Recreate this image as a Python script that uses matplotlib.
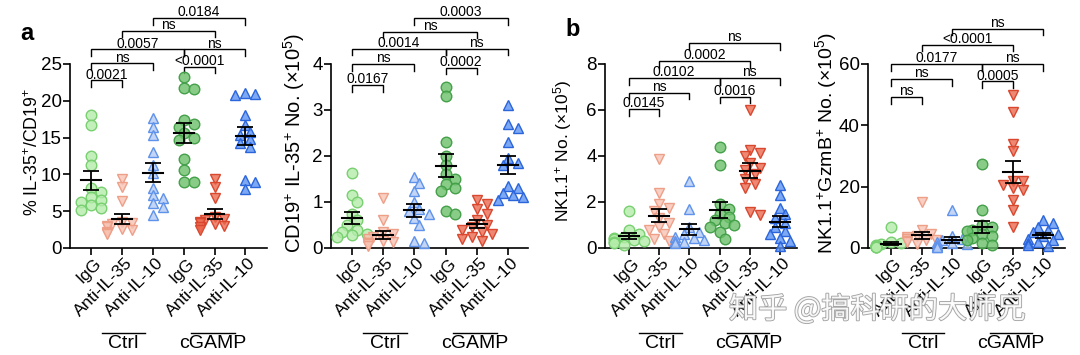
"""
Dispersión por grupo (media ± EEM) con corchetes de significancia, 4 paneles.
"""

import numpy as np
import matplotlib
matplotlib.use("Agg")
import matplotlib.pyplot as plt
from matplotlib import patheffects
from matplotlib.transforms import ScaledTranslation

plt.rcParams["font.family"] = ["Liberation Sans", "DejaVu Sans"]
plt.rcParams["mathtext.fontset"] = "custom"
plt.rcParams["mathtext.rm"] = "Liberation Sans"
plt.rcParams["mathtext.default"] = "regular"

# ---------------------------------------------------------------------------
# Datos
# ---------------------------------------------------------------------------
GRUPOS = ["IgG", "Anti-IL-35", "Anti-IL-10", "IgG", "Anti-IL-35", "Anti-IL-10"]
TRATAMIENTOS = ["Ctrl", "cGAMP"]

# a (izq): % IL-35+/CD19+
il35_cd19 = [
    [18.1, 16.7, 12.5, 11.3, 8.2, 7.6, 6.9, 6.5, 6.2, 5.8, 5.5, 5.2],
    [9.4, 8.3, 6.4, 3.6, 3.4, 3.2, 3.0, 2.8, 2.6, 2.4, 2.2, 2.0, 1.9],
    [17.7, 16.5, 15.4, 13.1, 11.3, 10.2, 8.2, 7.2, 6.8, 6.1, 5.6, 4.5],
    [23.3, 21.7, 21.6, 17.4, 16.8, 16.5, 15.6, 15.0, 14.7, 12.1, 10.6, 9.0, 8.9],
    [9.4, 8.3, 6.8, 4.2, 4.0, 3.8, 3.6, 3.4, 3.2, 3.0, 2.8, 2.5],
    [21.0, 20.9, 20.8, 18.1, 16.7, 15.8, 15.3, 14.8, 14.3, 13.7, 9.3, 8.9, 8.0],
]
# a (der): CD19+ IL-35+ No. (x10^5)
cd19_il35_num = [
    [1.62, 1.15, 1.0, 0.75, 0.6, 0.5, 0.4, 0.35, 0.3, 0.28, 0.25],
    [1.08, 0.6, 0.35, 0.3, 0.25, 0.2, 0.15, 0.12, 0.1, 0.1, 0.08, 0.05],
    [1.55, 1.42, 1.25, 1.0, 0.85, 0.8, 0.75, 0.65, 0.5, 0.15, 0.1],
    [3.5, 3.3, 2.3, 2.0, 1.8, 1.6, 1.5, 1.4, 1.3, 1.25, 0.8, 0.75],
    [1.05, 0.95, 0.85, 0.75, 0.6, 0.5, 0.45, 0.4, 0.35, 0.3, 0.25, 0.2, 0.15],
    [3.1, 2.7, 2.6, 2.3, 1.95, 1.85, 1.8, 1.35, 1.3, 1.2, 1.15, 1.1, 1.05],
]
# b (izq): NK1.1+ No. (x10^5)
nk_num = [
    [1.6, 0.8, 0.6, 0.5, 0.45, 0.4, 0.35, 0.3, 0.25, 0.2, 0.15],
    [3.85, 2.4, 1.9, 1.75, 1.6, 1.3, 1.1, 0.9, 0.8, 0.6, 0.4, 0.3],
    [2.9, 1.7, 0.9, 0.7, 0.6, 0.5, 0.45, 0.35, 0.3, 0.25, 0.2],
    [4.4, 3.6, 1.9, 1.7, 1.5, 1.35, 1.2, 1.1, 1.0, 0.9, 0.7, 0.4],
    [6.0, 4.25, 4.15, 4.0, 3.7, 3.5, 3.4, 3.2, 3.0, 2.8, 2.6, 1.55, 1.45],
    [2.75, 2.3, 1.75, 1.5, 1.3, 1.1, 0.9, 0.75, 0.6, 0.45, 0.3, 0.1],
]
# b (der): NK1.1+GzmB+ No. (x10^5)
nk_gzmb_num = [
    [7.0, 2.0, 1.5, 1.2, 1.0, 0.8, 0.6, 0.5, 0.4, 0.3, 0.2],
    [15.0, 5.8, 4.6, 4.0, 3.5, 3.0, 2.6, 3.0, 2.6, 2.2, 1.8, 1.2],
    [12.5, 4.0, 3.0, 2.5, 2.0, 1.6, 1.2, 0.9, 0.6, 0.4, 0.2],
    [27.5, 12.5, 7.5, 6.8, 6.0, 5.5, 4.5, 3.8, 3.2, 2.5, 1.5, 1.0],
    [50.0, 44.5, 34.0, 31.5, 22.0, 20.5, 22.0, 19.5, 19.0, 15.5, 12.5, 7.0],
    [9.0, 8.0, 7.0, 6.0, 5.2, 4.5, 3.8, 3.0, 2.5, 2.0, 1.5, 1.0, 0.5],
]

# comparaciones (grupo i, grupo j) y sus valores p
PARES = [(0, 1), (0, 2), (3, 4), (0, 3), (3, 5), (1, 4), (2, 5)]
p_a1 = ["0.0021", "ns", "<0.0001", "0.0057", "ns", "ns", "0.0184"]
p_a2 = ["0.0167", "ns", "0.0002", "0.0014", "ns", "ns", "0.0003"]
p_b1 = ["0.0145", "ns", "0.0016", "0.0102", "ns", "0.0002", "ns"]
p_b2 = ["ns", "ns", "0.0005", "0.0177", "ns", "<0.0001", "ns"]

# ---------------------------------------------------------------------------
# Estilo / disposición
# ---------------------------------------------------------------------------
MARCADORES = ["o", "v", "^", "o", "v", "^"]
RELLENO = ["#b4ecaa", "#f7c3b3", "#b3cbf6", "#6cc06a", "#ec6a50", "#5c92f2"]
BORDE = ["#78d070", "#ee9f88", "#5f92ea", "#45a04a", "#d8472e", "#2b65db"]

PANELES = [
    dict(datos=il35_cd19, p=p_a1, ymax=25, paso=5,
         ylabel="% IL-35$^{+}$/CD19$^{+}$", ylab_fs=12.8,
         pos=[70, 197], xlim=(-0.68, 5.7), ylab=(-0.19, 0.52),
         alturas=[22.8, 25.1, 24.6, 27.0, 27.0, 29.5, 31.25]),
    dict(datos=cd19_il35_num, p=p_a2, ymax=4, paso=1,
         ylabel="CD19$^{+}$ IL-35$^{+}$ No. (×10$^{5}$)", ylab_fs=14.5,
         pos=[331, 197], xlim=(-0.67, 5.64), ylab=(-0.19, 0.57),
         alturas=[3.54, 4.0, 3.92, 4.33, 4.33, 4.70, 5.0]),
    dict(datos=nk_num, p=p_b1, ymax=8, paso=2,
         ylabel="NK1.1$^{+}$ No. (×10$^{5}$)", ylab_fs=12.5,
         pos=[605, 192], xlim=(-0.79, 5.56), ylab=(-0.22, 0.53),
         alturas=[6.04, 6.74, 6.57, 7.39, 7.39, 8.13, 8.91]),
    dict(datos=nk_gzmb_num, p=p_b2, ymax=60, paso=20,
         ylabel="NK1.1$^{+}$GzmB$^{+}$ No. (×10$^{5}$)", ylab_fs=14,
         pos=[868, 197], xlim=(-0.76, 5.72), ylab=(-0.215, 0.57),
         alturas=[49.2, 55.1, 54.4, 60.0, 60.0, 66.2, 71.5]),
]

W, H = 1080, 355
AX_ABAJO, AX_ALTO = 248, 184   # px


def enjambre(valores, px_y, px_x, d=9.0):
    """Desplazamientos horizontales tipo 'column scatter' (sin azar)."""
    valores = np.asarray(valores)
    orden = np.argsort(valores)[::-1]
    puestos = []
    desp = np.zeros(len(valores))
    for k in orden:
        y = valores[k] * px_y
        x = 0.0
        for c in [0, 1, -1, 2, -2, 3, -3]:
            x = c * d * 0.55
            if all((x - xx) ** 2 + (y - yy) ** 2 >= (d * 0.8) ** 2 for xx, yy in puestos):
                break
        puestos.append((x, y))
        desp[k] = x / px_x
    return desp


def corchete(ax, x1, x2, y, texto, pierna):
    ax.plot([x1, x1, x2, x2], [y - pierna, y, y, y - pierna], color="black",
            lw=1.0, clip_on=False, solid_joinstyle="miter")
    ax.annotate(texto, ((x1 + x2) / 2, y), xytext=(0, 1.2), textcoords="offset points",
                ha="center", va="baseline", fontsize=10, annotation_clip=False)


fig = plt.figure(figsize=(W / 100, H / 100), dpi=100)
desplaza = ScaledTranslation(0.08, 0.0, fig.dpi_scale_trans)

for cfg in PANELES:
    izq, ancho = cfg["pos"]
    ax = fig.add_axes([izq / W, 1 - AX_ABAJO / H, ancho / W, AX_ALTO / H])
    ymax = cfg["ymax"]
    x0, x1 = cfg["xlim"]
    px_x = ancho / (x1 - x0)
    px_y = AX_ALTO / ymax

    for i, vals in enumerate(cfg["datos"]):
        vals = np.asarray(vals)
        xs = i + enjambre(vals, px_y, px_x)
        ax.plot(xs, vals, ls="none", marker=MARCADORES[i], ms=7.6,
                mfc=matplotlib.colors.to_rgba(RELLENO[i], 0.8), mec=BORDE[i],
                mew=1.0, clip_on=False, zorder=3)
        media = vals.mean()
        eem = vals.std(ddof=1) / np.sqrt(len(vals))
        ax.plot([i - 0.32, i + 0.32], [media, media], color="black", lw=1.5, zorder=4,
                clip_on=False)
        ax.errorbar(i, media, yerr=eem, color="black", lw=1.3, capsize=5.5,
                    capthick=1.3, zorder=4, clip_on=False)

    pierna = 6.5 / px_y
    for (a, b), y, txt in zip(PARES, cfg["alturas"], cfg["p"]):
        corchete(ax, a, b, y, txt, pierna)

    ax.set_xlim(x0, x1)
    ax.set_ylim(0, ymax)
    ax.set_yticks(np.arange(0, ymax + 0.01, cfg["paso"]))
    ax.set_xticks(range(6))
    ax.tick_params(axis="y", labelsize=13.5, length=5, width=1.2, pad=1)
    ax.tick_params(axis="x", length=5, width=1.2, pad=4)
    ax.set_xticklabels(GRUPOS, rotation=45, ha="right", va="center",
                       rotation_mode="anchor", fontsize=12.5)
    # corrimiento de las etiquetas giradas (después de tick_params, que lo reinicia)
    for etq in ax.xaxis.get_majorticklabels():
        etq.set_transform(etq.get_transform() + desplaza)
    for lado in ["top", "right"]:
        ax.spines[lado].set_visible(False)
    for lado in ["left", "bottom"]:
        ax.spines[lado].set_linewidth(1.2)

    ax.set_ylabel(cfg["ylabel"], fontsize=cfg["ylab_fs"], va="center")
    ax.yaxis.set_label_coords(*cfg["ylab"])

    # rótulos de tratamiento bajo las etiquetas
    trans = ax.get_xaxis_transform()
    for centro, nombre in zip([1.05, 3.95], TRATAMIENTOS):
        ax.plot([centro - 0.7, centro + 0.7], [-0.46, -0.46], color="black", lw=1.0,
                transform=trans, clip_on=False)
        ax.text(centro, -0.475, nombre, transform=trans, ha="center", va="top",
                fontsize=14)

fig.text(27 / W, 1 - 33 / H, "a", fontsize=17, fontweight="bold", ha="center", va="center")
fig.text(573 / W, 1 - 30 / H, "b", fontsize=17, fontweight="bold", ha="center", va="center")

# marca de agua
fig.text(877 / W, 1 - 310 / H, "知乎 @搞科研的大师兄", fontsize=21, color="white",
         family=["Noto Sans CJK SC", "DejaVu Sans"], ha="center", va="center", alpha=0.9,
         path_effects=[patheffects.withStroke(linewidth=1.3, foreground="#9a9a9a")],
         zorder=10)

fig.savefig("out.png", dpi=100)
